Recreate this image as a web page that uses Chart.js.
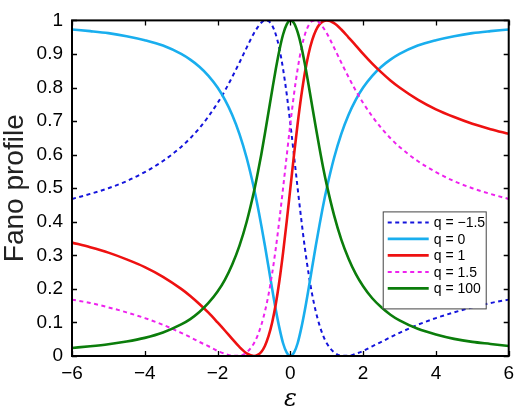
<!DOCTYPE html>
<html>
<head>
<meta charset="utf-8">
<script src="https://cdn.jsdelivr.net/npm/chart.js@4.4.1/dist/chart.umd.min.js"></script>
<style>
    html, body { margin: 0; padding: 0; background: #fff; }
    #wrap { width: 520px; height: 409px; }
</style>
</head>
<body>
<div id="wrap"><canvas id="fano" width="520" height="409"></canvas></div>
<script>
// eixo x (epsilon) e curvas
const energia = [-6, -5.5, -5, -4.5, -4, -3.5, -3, -2.75, -2.5, -2.25, -2, -1.8, -1.6, -1.4, -1.2, -1,
    -0.9, -0.8, -0.7, -0.6, -0.5, -0.4, -0.3, -0.2, -0.1, 0, 0.1, 0.2, 0.3, 0.4, 0.5, 0.6, 0.7, 0.8, 0.9,
    1, 1.2, 1.4, 1.6, 1.8, 2, 2.25, 2.5, 2.75, 3, 3.5, 4, 4.5, 5, 5.5, 6];

const qMenos15 = [0.468, 0.483, 0.500, 0.521, 0.548, 0.581, 0.623, 0.649, 0.679, 0.714, 0.754,
    0.790, 0.831, 0.874, 0.919, 0.962, 0.979, 0.993, 1.000, 0.998, 0.985, 0.958, 0.915, 0.855, 0.780,
    0.692, 0.597, 0.500, 0.407, 0.321, 0.246, 0.183, 0.132, 0.092, 0.061, 0.038,
    0.011, 0.001, 0.001, 0.007, 0.015, 0.029, 0.042, 0.056, 0.069, 0.093, 0.113, 0.130, 0.145, 0.158, 0.168];

const qZero = [0.973, 0.968, 0.962, 0.953, 0.941, 0.925, 0.900, 0.883, 0.862, 0.835, 0.800,
    0.764, 0.719, 0.662, 0.590, 0.500, 0.448, 0.390, 0.329, 0.265, 0.200, 0.138, 0.083, 0.038, 0.010,
    0, 0.010, 0.038, 0.083, 0.138, 0.200, 0.265, 0.329, 0.390, 0.448, 0.500,
    0.590, 0.662, 0.719, 0.764, 0.800, 0.835, 0.862, 0.883, 0.900, 0.925, 0.941, 0.953, 0.962, 0.968, 0.973];

const qUm = [0.338, 0.324, 0.308, 0.288, 0.265, 0.236, 0.200, 0.179, 0.155, 0.129, 0.100,
    0.076, 0.051, 0.027, 0.008, 0, 0.003, 0.012, 0.030, 0.059, 0.100, 0.155, 0.225, 0.308, 0.401,
    0.500, 0.599, 0.692, 0.775, 0.845, 0.900, 0.941, 0.970, 0.988, 0.997, 1.000,
    0.992, 0.973, 0.949, 0.925, 0.900, 0.871, 0.845, 0.821, 0.800, 0.764, 0.735, 0.712, 0.692, 0.676, 0.662];

const qUmMeio = [0.168, 0.158, 0.145, 0.130, 0.113, 0.093, 0.069, 0.056, 0.042, 0.029, 0.015,
    0.007, 0.001, 0.001, 0.011, 0.038, 0.061, 0.092, 0.132, 0.183, 0.246, 0.321, 0.407, 0.500, 0.597,
    0.692, 0.780, 0.855, 0.915, 0.958, 0.985, 0.998, 1.000, 0.993, 0.979, 0.962,
    0.919, 0.874, 0.831, 0.790, 0.754, 0.714, 0.679, 0.649, 0.623, 0.581, 0.548, 0.521, 0.500, 0.483, 0.468];

const qCem = [0.024, 0.029, 0.035, 0.043, 0.054, 0.070, 0.094, 0.110, 0.131, 0.158, 0.192,
    0.227, 0.272, 0.328, 0.400, 0.490, 0.543, 0.600, 0.662, 0.727, 0.792, 0.855, 0.912, 0.958, 0.988,
    1.000, 0.992, 0.965, 0.923, 0.869, 0.808, 0.744, 0.681, 0.620, 0.562, 0.510,
    0.420, 0.347, 0.290, 0.244, 0.208, 0.172, 0.145, 0.123, 0.106, 0.081, 0.064, 0.051, 0.042, 0.036, 0.030];

const rotulos = ["q = \u22121.5", "q = 0", "q = 1", "q = 1.5", "q = 100"];
const ticksX = [-6, -4, -2, 0, 2, 4, 6];

const pontos = serie => energia.map((e, i) => ({ x: e, y: serie[i] }));

function curva(label, serie, cor, tracejado, ordem) {
    return {
        label,
        data: pontos(serie),
        borderColor: cor,
        borderWidth: tracejado ? 2 : 2.6,
        borderDash: tracejado ? [4, 3.5] : [],
        pointRadius: 0,
        cubicInterpolationMode: "monotone",
        fill: false,
        order: ordem
    };
}

// moldura, ticks para dentro e legenda no estilo MATLAB
const moldura = {
    id: "moldura",
    afterDatasetsDraw(chart) {
        const { ctx, chartArea: a, scales: { x, y } } = chart;
        ctx.save();
        ctx.strokeStyle = "#000";
        ctx.lineWidth = 1.3;
        x.ticks.forEach(t => {
            const px = Math.round(x.getPixelForValue(t.value)) + 0.5;
            ctx.beginPath();
            ctx.moveTo(px, a.bottom); ctx.lineTo(px, a.bottom - 5);
            ctx.moveTo(px, a.top); ctx.lineTo(px, a.top + 5);
            ctx.stroke();
        });
        y.ticks.forEach(t => {
            const py = Math.round(y.getPixelForValue(t.value)) + 0.5;
            ctx.beginPath();
            ctx.moveTo(a.left, py); ctx.lineTo(a.left + 5, py);
            ctx.moveTo(a.right, py); ctx.lineTo(a.right - 5, py);
            ctx.stroke();
        });
        ctx.lineWidth = 2;
        ctx.strokeRect(a.left, a.top, a.right - a.left, a.bottom - a.top);

        // legenda
        const lx = a.right - 126, ly = a.top + 191;
        ctx.fillStyle = "#fff";
        ctx.fillRect(lx, ly, 103, 97);
        ctx.strokeStyle = "#444";
        ctx.lineWidth = 1;
        ctx.strokeRect(lx + 0.5, ly + 0.5, 103, 97);
        ctx.font = "14px 'Liberation Sans', Arial, sans-serif";
        ctx.textBaseline = "middle";
        ctx.fillStyle = "#000";
        const ds = chart.data.datasets;
        ds.forEach((d, i) => {
            const yy = ly + 11 + i * 16.5;
            ctx.strokeStyle = d.borderColor;
            ctx.lineWidth = d.borderWidth;
            ctx.setLineDash(d.borderDash);
            ctx.beginPath();
            ctx.moveTo(lx + 5, yy);
            ctx.lineTo(lx + 46, yy);
            ctx.stroke();
            ctx.setLineDash([]);
            ctx.fillText(d.label, lx + 51, yy + 1);
        });
        ctx.restore();
    }
};

new Chart(document.getElementById("fano"), {
    type: "line",
    data: {
        datasets: [
            curva(rotulos[0], qMenos15, "#1414dc", true, 4),
            curva(rotulos[1], qZero, "#19aeee", false, 3),
            curva(rotulos[2], qUm, "#ee1111", false, 2),
            curva(rotulos[3], qUmMeio, "#ee22ee", true, 1),
            curva(rotulos[4], qCem, "#0b7d0b", false, 0)
        ]
    },
    options: {
        responsive: false,
        animation: false,
        devicePixelRatio: 1,
        layout: { padding: { top: 7, right: 7, left: 0, bottom: 0 } },
        plugins: {
            legend: { display: false },
            tooltip: { enabled: false }
        },
        scales: {
            x: {
                type: "linear",
                min: -6,
                max: 6,
                afterFit: s => { s.height = 53; },
                afterBuildTicks: s => { s.ticks = ticksX.map(v => ({ value: v })); },
                grid: { display: false, drawTicks: false },
                border: { display: false },
                ticks: {
                    padding: 6,
                    color: "#000",
                    font: { family: "'Liberation Sans', Arial, sans-serif", size: 19 },
                    callback: v => String(v).replace("-", "\u2212")
                },
                title: {
                    display: true,
                    text: "\u03b5",
                    color: "#000",
                    padding: { top: 0, bottom: -5 },
                    font: { family: "'DejaVu Serif', serif", size: 24, style: "italic" }
                }
            },
            y: {
                min: 0,
                max: 1,
                afterFit: s => { s.width = 72; },
                grid: { display: false, drawTicks: false },
                border: { display: false },
                ticks: {
                    stepSize: 0.1,
                    padding: 9,
                    color: "#000",
                    font: { family: "'Liberation Sans', Arial, sans-serif", size: 19 },
                    callback: v => String(+v.toFixed(1))
                },
                title: {
                    display: true,
                    text: "Fano profile",
                    color: "#222",
                    padding: { top: -2, bottom: 0 },
                    font: { family: "'Liberation Sans', Arial, sans-serif", size: 28 }
                }
            }
        }
    },
    plugins: [moldura]
});
</script>
</body>
</html>
